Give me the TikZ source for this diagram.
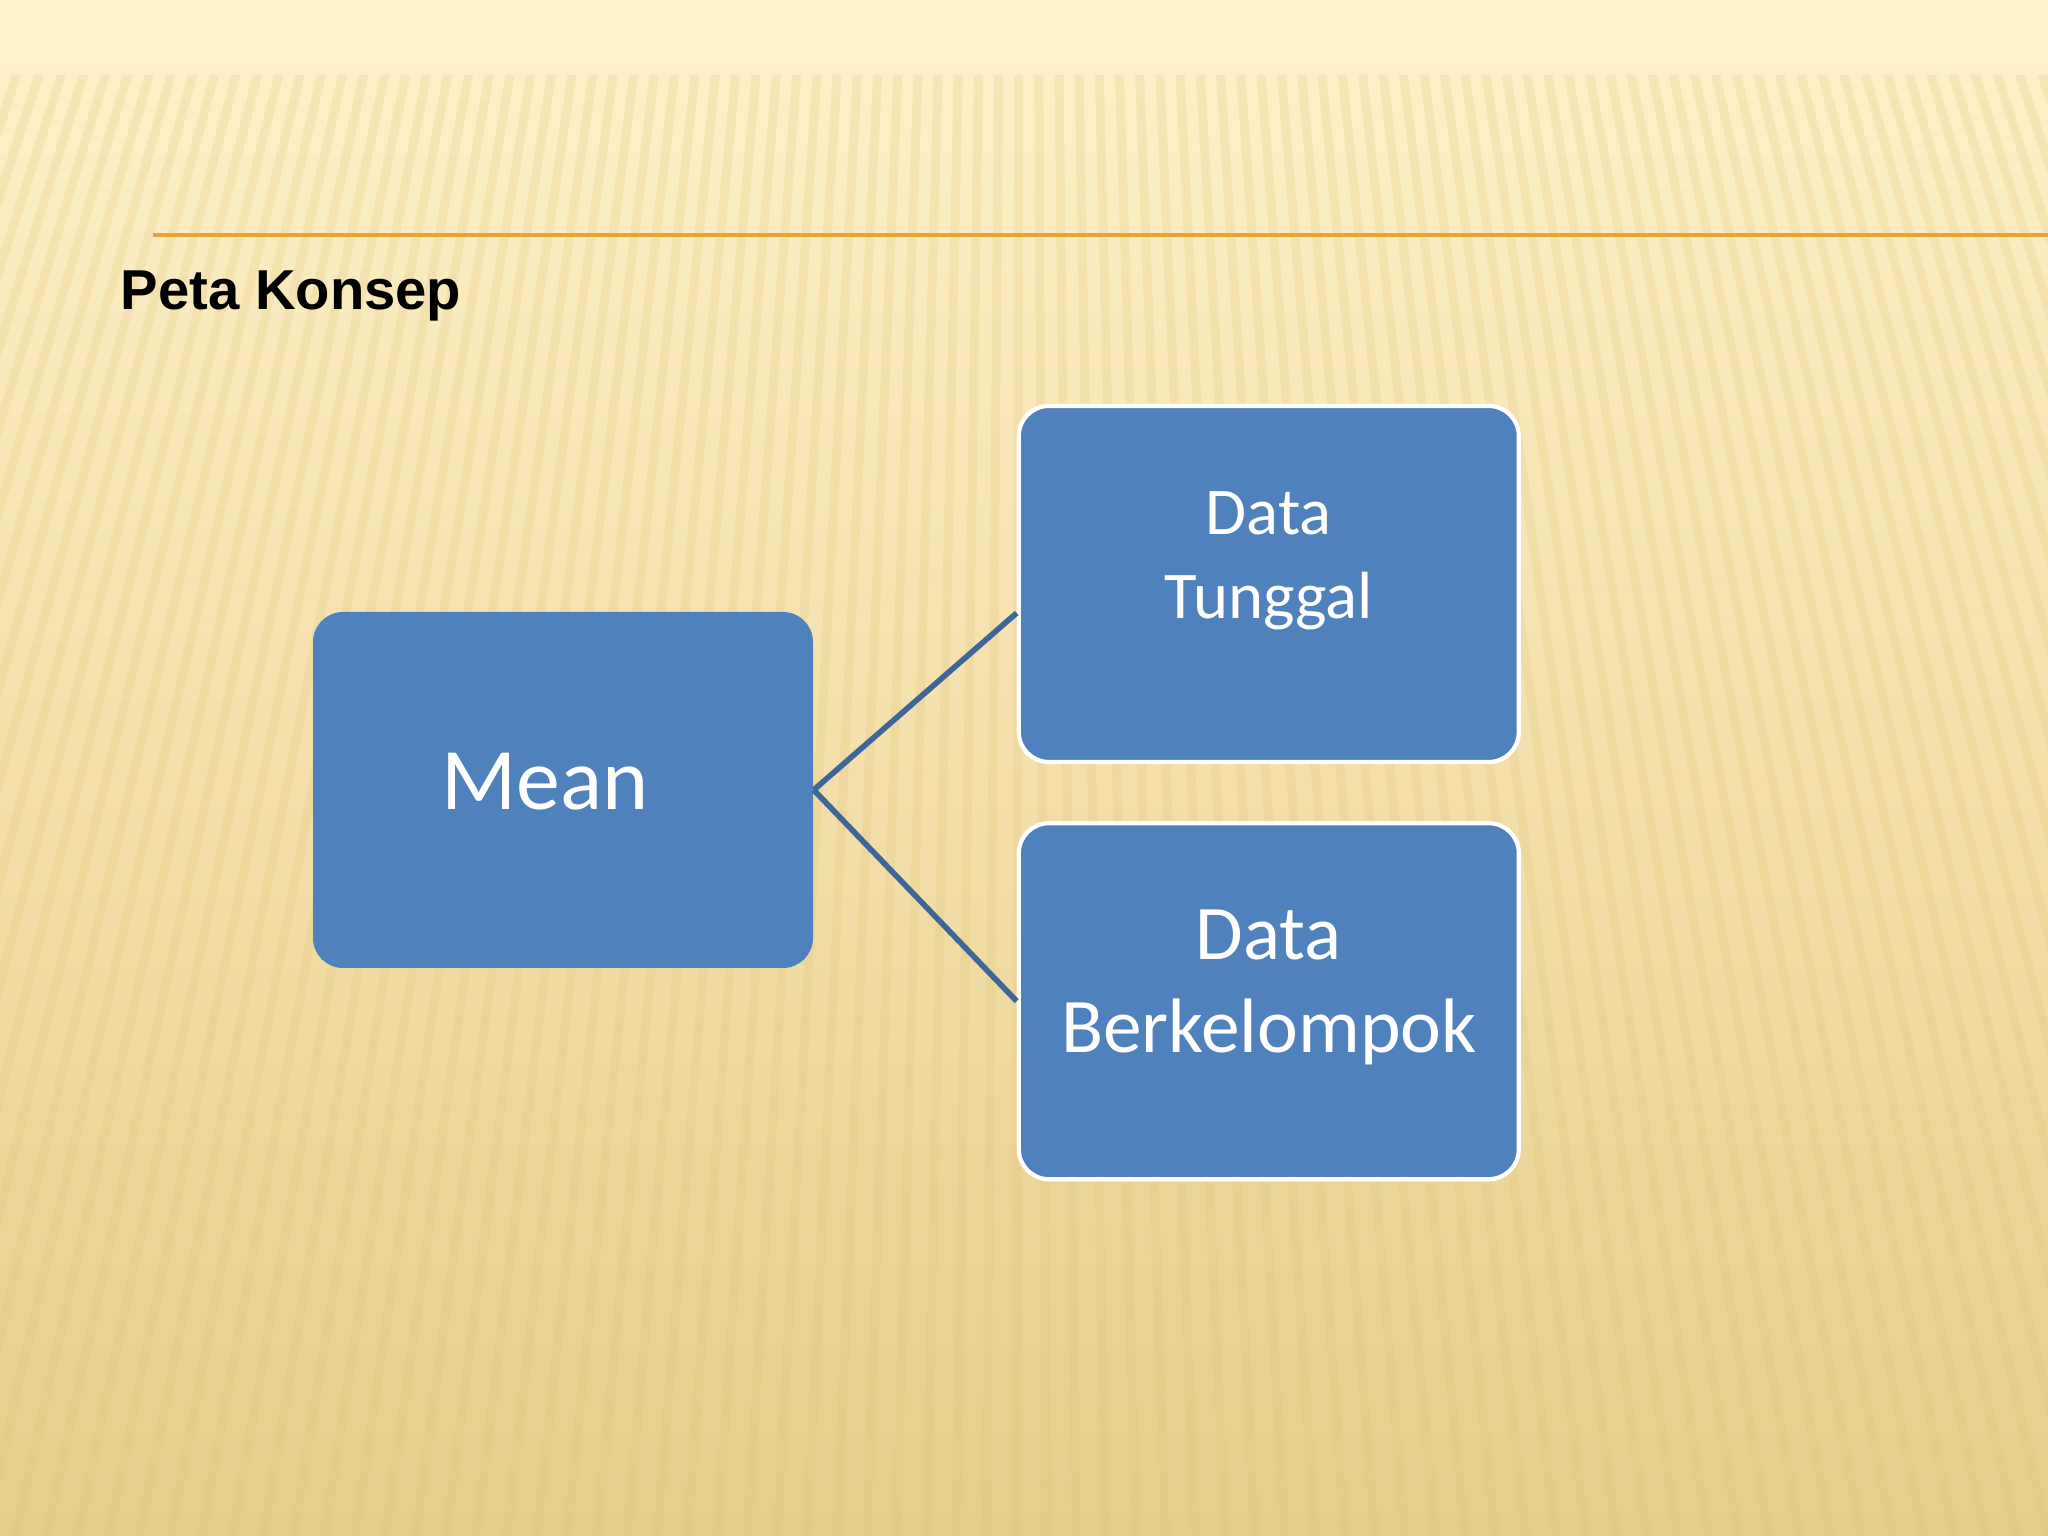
\documentclass[tikz,border=0pt]{standalone}
\usepackage{fontspec}
\setmainfont{Carlito}
\newfontfamily\headfont{Liberation Sans}
\usetikzlibrary{positioning}
\definecolor{slideBlue}{HTML}{4F81BD}
\definecolor{slideLink}{HTML}{3E6698}
\definecolor{slideOrange}{HTML}{E9A23B}
\definecolor{slideTop}{HTML}{FEF2CB}
\definecolor{slideMid}{HTML}{FBE9B7}
\definecolor{slideBottom}{HTML}{E7CD8A}
\definecolor{slideStripe}{HTML}{E0C278}
\tikzset{
  conceptBox/.style={rectangle, rounded corners=0.3cm, fill=slideBlue, minimum width=5.0cm, minimum height=3.56cm, inner sep=0pt},
  subBox/.style={conceptBox, draw=white, line width=1.2pt},
  boxText/.style={text=white, align=center, inner sep=0pt},
  link/.style={draw=slideLink, line width=1.6pt},
  titleRule/.style={draw=slideOrange, line width=0.9pt}
}

\begin{document}
\begin{tikzpicture}
  \useasboundingbox (0,0) rectangle (20.48,15.36);
  \shade[top color=slideTop, middle color=slideMid, bottom color=slideBottom] (0,0) rectangle (20.48,15.36);
  \begin{scope}
    \clip (0,0) rectangle (20.48,14.6);
    \foreach \a in {-21,-20.62,...,21}
      \draw[slideStripe, line width=0.09cm, opacity=0.22] (10.24,45) -- ++(-90+\a:47);
  \end{scope}

  \coordinate (ruleStart) at (1.53,13.01);
  \coordinate (ruleEnd) at (20.48,13.01);
  \draw[titleRule] (ruleStart) -- (ruleEnd);
  \node[anchor=base west, inner sep=0pt, font=\headfont\bfseries\fontsize{16}{20}\selectfont] (title) at (1.20,12.26) {Peta Konsep};

  \node[conceptBox] (mean) at (5.63,7.46) {};
  \node[subBox, right=2.03cm of mean, yshift=2.06cm] (tunggal) {};
  \node[subBox, below=0.57cm of tunggal] (kelompok) {};

  \node[boxText, font=\fontsize{25}{30}\selectfont, xshift=-0.18cm, yshift=0.08cm] (meanText) at (mean) {Mean};
  \node[boxText, font=\fontsize{19}{23.8}\selectfont, yshift=0.23cm] (tunggalText) at (tunggal) {Data\\Tunggal};
  \node[boxText, font=\fontsize{22}{26.4}\selectfont, yshift=0.14cm] (kelompokText) at (kelompok) {Data\\Berkelompok};

  \draw[link] (mean.east) -- ([yshift=-0.29cm]tunggal.west);
  \draw[link] (mean.east) -- (kelompok.west);
\end{tikzpicture}
\end{document}
